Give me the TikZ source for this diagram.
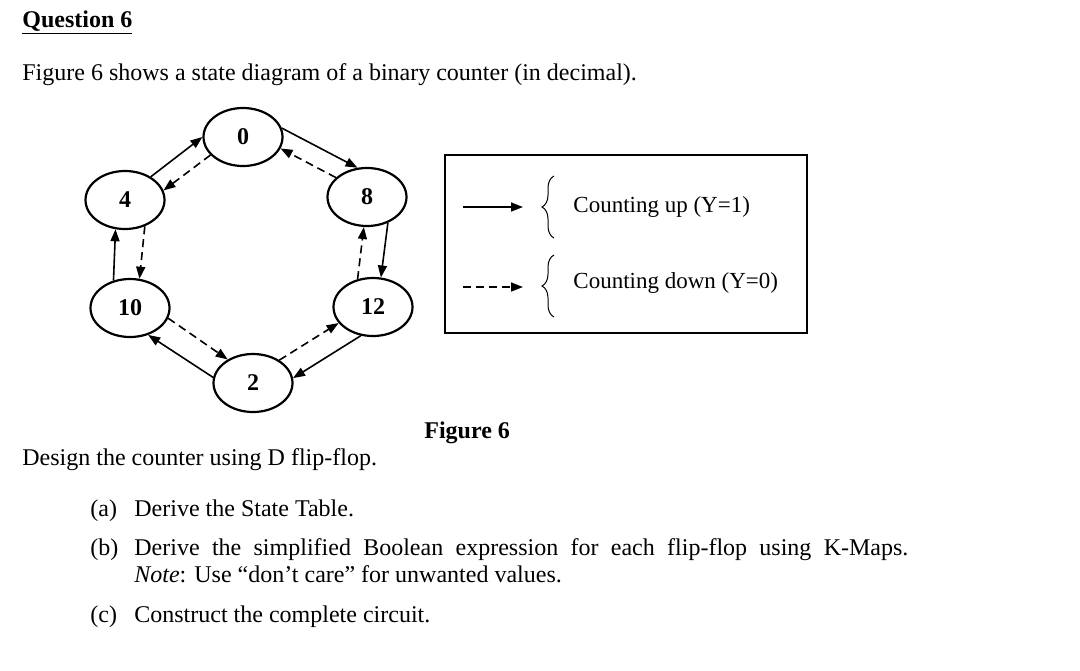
\documentclass[tikz,border=0pt]{standalone}
\usepackage{fontspec}
\setmainfont{Liberation Serif}
\usetikzlibrary{arrows.meta, shapes.geometric, decorations.pathreplacing}

\begin{document}
\begin{tikzpicture}[x=0.5pt,y=-0.5pt,
  state/.style={ellipse,draw,line width=1.1pt,minimum width=39.5pt,minimum height=29pt,inner sep=0pt,font=\fontsize{12}{14}\selectfont\bfseries},
  up/.style={line width=0.8pt,-{Triangle[length=6pt,width=4.5pt]}},
  down/.style={up,dash pattern=on 4pt off 2.5pt},
  txt/.style={anchor=base west,inner sep=0pt,font=\fontsize{12}{13.5}\selectfont},
  legendtxt/.style={anchor=base west,inner sep=0pt,font=\fontsize{11.5}{13}\selectfont},
  curly/.style={line width=0.5pt,decorate,decoration={brace,amplitude=6pt}}]
\useasboundingbox (0,0) rectangle (1080,670);

% header
\node[txt,font=\fontsize{12}{13.5}\selectfont\bfseries] (Title) at (22,27) {\underline{Question 6}};
\node[txt] (Intro) at (22,80) {Figure 6 shows a state diagram of a binary counter (in decimal).};

% states
\node[state] (S0) at (243,137) {0};
\node[state] (S4) at (125,200) {4};
\node[state] (S8) at (367,197) {8};
\node[state] (S10) at (130,308) {10};
\node[state] (S12) at (373,307) {12};
\node[state] (S2) at (253,383) {2};

% counting up
\draw[up] (S4.42) -- (S0.180);
\draw[up] (S0.13) -- (S8.108);
\draw[up] (S8.-51) -- (S12.75);
\draw[up] (S12.247) -- (S2.7);
\draw[up] (S2.172) -- (S10.304);
\draw[up] (S10.121) -- (S4.252);
% counting down
\draw[down] (S0.209) -- (S4.14);
\draw[down] (S8.148) -- (S0.343);
\draw[down] (S12.119) -- (S8.264);
\draw[down] (S2.41) -- (S12.205);
\draw[down] (S10.345) -- (S2.137);
\draw[down] (S4.307) -- (S10.72);

% legend
\node[draw,line width=0.75pt,minimum width=181pt,minimum height=89pt,inner sep=0pt] (Legend) at (626,244) {};
\coordinate (UpTail) at (463,207);
\coordinate (UpHead) at (523,207);
\coordinate (DownTail) at (463,287);
\coordinate (DownHead) at (523,287);
\draw[up] (UpTail) -- (UpHead);
\draw[down] (DownTail) -- (DownHead);
\draw[curly] (554,238) -- (554,176);
\draw[curly] (554,317) -- (554,255);
\node[legendtxt] (UpText) at (573,212) {Counting up (Y=1)};
\node[legendtxt] (DownText) at (573,288) {Counting down (Y=0)};

\node[txt,font=\fontsize{12}{13.5}\selectfont\bfseries] (Caption) at (424,438) {Figure 6};

% tasks
\node[txt] (Design) at (22,465) {Design the counter using D flip-flop.};
\node[txt] (LabelA) at (90,516) {(a)};
\node[txt] (TaskA) at (134,516) {Derive the State Table.};
\node[txt] (LabelB) at (90,555) {(b)};
\node[txt] (TaskB) at (134,555) {\makebox[387pt][s]{Derive the simplified Boolean expression for each flip-flop using K-Maps.}};
\node[txt] (NoteB) at (134,582) {\textit{Note}: Use “don’t care” for unwanted values.};
\node[txt] (LabelC) at (90,622) {(c)};
\node[txt] (TaskC) at (134,622) {Construct the complete circuit.};
\end{tikzpicture}
\end{document}
